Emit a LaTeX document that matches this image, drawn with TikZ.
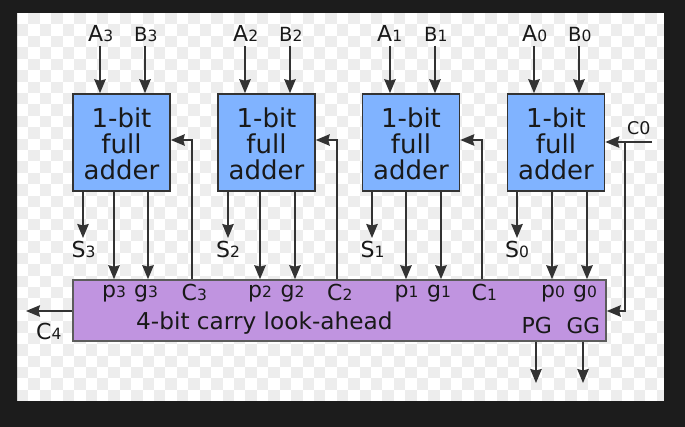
\documentclass[tikz,border=0pt]{standalone}
\usepackage{fontspec}
\setmainfont{DejaVu Sans}
\usetikzlibrary{arrows.meta}
\definecolor{bgdark}{HTML}{1C1C1C}
\definecolor{chk}{HTML}{EDEDED}
\definecolor{adderblue}{HTML}{80B3FF}
\definecolor{lookpurple}{HTML}{C094E0}
\definecolor{ink}{HTML}{333333}
\newcommand{\fs}[1]{\fontsize{#1pt}{#1pt}\selectfont}
\newcommand{\lab}[3]{{\fs{#1}#2\fs{15.5}#3}}
\tikzset{
  wire/.style={draw=ink,line width=1.6pt},
  arr/.style={wire,-{Stealth[inset=1.5pt,length=14pt,width=11.5pt]}},
  adder/.style={draw=ink,line width=1.6pt,fill=adderblue,minimum width=97pt,minimum height=97pt,inner sep=0pt},
  cla/.style={draw=ink!80,line width=1.6pt,fill=lookpurple,minimum width=533pt,minimum height=61pt,inner sep=0pt},
  addertext/.style={font=\fontsize{26pt}{26pt}\selectfont,align=center,inner sep=0pt,text=black!90},
  txt/.style={anchor=base west,inner sep=0pt,text=black!90},
}
\begin{document}
\begin{tikzpicture}[x=1pt,y=-1pt]
\useasboundingbox (0,0) rectangle (685,427);
\fill[white] (17,13) rectangle (664,401);
\foreach \i in {0,...,56}{\foreach \j in {0,...,33}{
  \pgfmathtruncatemacro{\chkodd}{mod(\i+\j,2)}
  \ifnum\chkodd=1
    \fill[chk] ({17+11.42*\i},{13+11.42*\j}) rectangle ++(11.42,11.42);
  \fi}}
\fill[bgdark,even odd rule] (0,0) rectangle (685,427) (17,13) rectangle (664,401);
% adders
\foreach \n/\x in {fa3/121.5,fa2/266.5,fa1/411,fa0/556}{
  \node[adder] (\n) at (\x,142.5) {};
  \node[addertext] (\n t) at (\x,143.5) {1-bit\\full\\adder};
}
\node[cla] (la) at (339.5,310.5) {};
% labels
\node[txt] (A3) at (88,41.5) {\lab{22}{A}{3}};
\node[txt] (B3) at (134,41.5) {\lab{19.5}{B}{3}};
\node[txt] (A2) at (233,41.5) {\lab{22}{A}{2}};
\node[txt] (B2) at (279,41.5) {\lab{19.5}{B}{2}};
\node[txt] (A1) at (377,41.5) {\lab{22}{A}{1}};
\node[txt] (B1) at (424,41.5) {\lab{19.5}{B}{1}};
\node[txt] (A0) at (522,41.5) {\lab{22}{A}{0}};
\node[txt] (B0) at (568,41.5) {\lab{19.5}{B}{0}};
\node[txt] (S3) at (71.5,258) {\lab{22}{S}{3}};
\node[txt] (S2) at (216,258) {\lab{22}{S}{2}};
\node[txt] (S1) at (360.5,258) {\lab{22}{S}{1}};
\node[txt] (S0) at (505,258) {\lab{22}{S}{0}};
\node[txt] (p3) at (102,298) {\lab{22}{p}{3}};
\node[txt] (g3) at (134,298) {\lab{22}{g}{3}};
\node[txt] (c3) at (181.5,300.5) {\lab{22}{C}{3}};
\node[txt] (p2) at (248,298) {\lab{22}{p}{2}};
\node[txt] (g2) at (280.5,298) {\lab{22}{g}{2}};
\node[txt] (c2) at (327,300.5) {\lab{22}{C}{2}};
\node[txt] (p1) at (394.5,298) {\lab{22}{p}{1}};
\node[txt] (g1) at (427,298) {\lab{22}{g}{1}};
\node[txt] (c1) at (471.5,300.5) {\lab{22}{C}{1}};
\node[txt] (p0) at (541,298) {\lab{22}{p}{0}};
\node[txt] (g0) at (573,298) {\lab{22}{g}{0}};
\node[txt] (c4) at (36,340) {\lab{22}{C}{4}};
\node[txt] (c0lab) at (627,135) {\fs{17.5}C0};
\node[txt] (title) at (136,329.3) {\fs{23.2}4-bit carry look-ahead};
\node[txt] (pg) at (521.5,334) {\fs{22}PG};
\node[txt] (gg) at (566.5,334) {\fs{21.5}GG};
% inputs
\foreach \n/\x/\t in {A3/100/fa3,B3/145/fa3,A2/245/fa2,B2/290/fa2,A1/390/fa1,B1/435/fa1,A0/534/fa0,B0/579/fa0}{
  \coordinate (in\n) at (\x,46);
  \draw[arr] (in\n) -- (in\n |- \t.north);
}
% sums
\foreach \n/\x/\t in {S3/83/fa3,S2/228/fa2,S1/372/fa1,S0/517/fa0}{
  \coordinate (o\n) at (\x,238);
  \draw[arr] (o\n |- \t.south) -- (o\n);
}
% propagate, generate
\foreach \x/\t in {114/fa3,148/fa3,260/fa2,295/fa2,406/fa1,441/fa1,552/fa0,587/fa0}{
  \coordinate (pt) at (\x,200);
  \draw[arr] (pt |- \t.south) -- (pt |- la.north);
}
% carries
\foreach \x/\t in {192/fa3,337/fa2,482/fa1}{
  \coordinate (ct) at (\x,140);
  \draw[arr] (ct |- la.north) -- (ct) -- (ct -| \t.east);
}
% c0
\coordinate (c0in) at (652,142);
\coordinate (c0b) at (625,142);
\coordinate (c0c) at (625,311);
\draw[arr] (c0in) -- (c0in -| fa0.east);
\draw[arr] (c0b) -- (c0c) -- (c0c -| la.east);
% c4
\coordinate (c4o) at (26,311);
\draw[arr] (c4o -| la.west) -- (c4o);
% pg gg
\coordinate (pgo) at (536,383);
\coordinate (ggo) at (583,383);
\draw[arr] (pgo |- la.south) -- (pgo);
\draw[arr] (ggo |- la.south) -- (ggo);
\end{tikzpicture}
\end{document}
